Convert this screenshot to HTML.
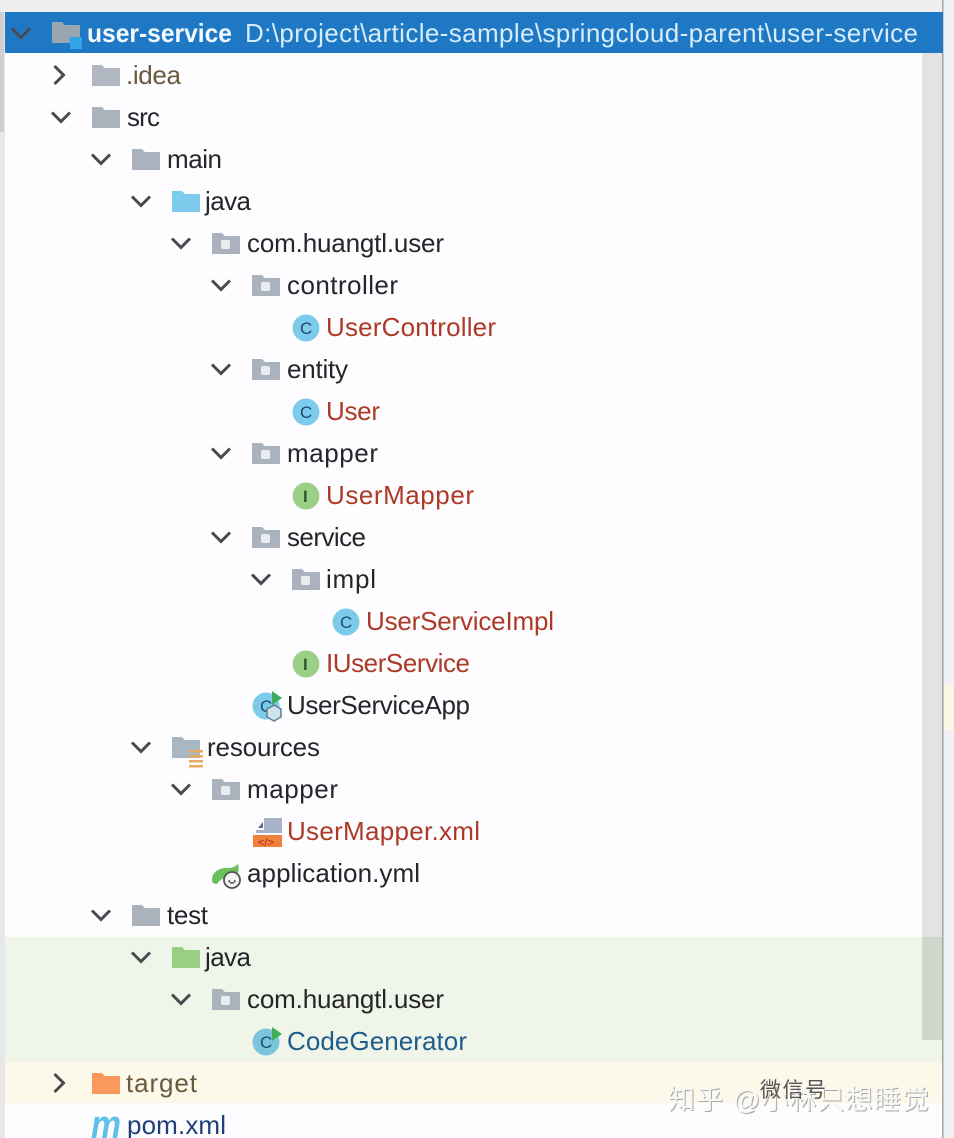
<!DOCTYPE html>
<html><head><meta charset="utf-8"><style>
html,body{margin:0;padding:0;background:#fff}
svg{display:block}
text{font-family:"Liberation Sans","Noto Sans CJK SC",sans-serif;font-size:26px}
.k{fill:#25252a}.r{fill:#ad3a26}.b{fill:#1f5c8c}.o{fill:#6a5a3c}
.c{fill:none;stroke:#4a4a4e;stroke-width:3}
</style></head><body>
<svg width="954" height="1138" viewBox="0 0 954 1138" xmlns="http://www.w3.org/2000/svg">
<defs>
<path id="f" d="M0 0h10l3 3h15v18H0z"/>
<g id="p"><use href="#f" fill="#a9b2bd"/><rect x="9" y="7" width="9" height="9" rx="2" fill="#e9ecf0"/></g>
<path id="d" class="c" d="M-9-4.500L0 4.500L9-4.500"/>
<path id="t" class="c" d="M-4.500-9L4.500 0L-4.500 9"/>
</defs>
<rect width="954" height="1138" fill="#fdfdff"/>
<rect width="954" height="12" fill="#eeeeee"/>
<rect x="0" y="12" width="5" height="1126" fill="#e8e8e8"/>
<rect x="0" y="12" width="4" height="120" fill="#cfcfcf"/>
<rect x="943" y="0" width="11" height="1138" fill="#f1f1f3"/>
<rect x="944" y="685" width="10" height="45" fill="#fbf7e6"/>
<rect x="5" y="937" width="938" height="125" fill="#eff6e9"/>
<rect x="5" y="1062" width="938" height="41" fill="#fdf9ea"/>
<rect x="922" y="52" width="20" height="988" fill="#e3e3e5"/>
<rect x="922" y="937" width="20" height="103" fill="#d0d6ca"/>
<rect x="942" y="0" width="1.500" height="1138" fill="#a5a5a8"/>
<rect x="5" y="12" width="938" height="41" fill="#1f78c4"/>

<!-- chevrons -->
<use href="#d" x="21" y="33" style="stroke:#0b4a80"/>
<use href="#t" x="59" y="75"/>
<use href="#d" x="61" y="117"/>
<use href="#d" x="101" y="159"/>
<use href="#d" x="141" y="201"/>
<use href="#d" x="181" y="243"/>
<use href="#d" x="221" y="285"/>
<use href="#d" x="221" y="369"/>
<use href="#d" x="221" y="453"/>
<use href="#d" x="221" y="537"/>
<use href="#d" x="261" y="579"/>
<use href="#d" x="141" y="747"/>
<use href="#d" x="181" y="789"/>
<use href="#d" x="101" y="915"/>
<use href="#d" x="141" y="957"/>
<use href="#d" x="181" y="999"/>
<use href="#t" x="59" y="1083"/>

<!-- folders -->
<use href="#f" x="52" y="22" fill="#9ba6b3"/><rect x="70" y="37" width="12" height="12" fill="#2ea6e6"/>
<use href="#f" x="92" y="65" fill="#b0b7c0"/>
<use href="#f" x="92" y="107" fill="#aab2bb"/>
<use href="#f" x="132" y="149" fill="#aab2bf"/>
<use href="#f" x="172" y="191" fill="#7fcbee"/>
<use href="#p" x="212" y="233"/>
<use href="#p" x="252" y="275"/>
<use href="#p" x="252" y="359"/>
<use href="#p" x="252" y="443"/>
<use href="#p" x="252" y="527"/>
<use href="#p" x="292" y="569"/>
<use href="#f" x="172" y="737" fill="#a9b6c4"/>
<g fill="#e8a860"><rect x="189" y="750" width="14" height="2.500"/><rect x="189" y="755" width="14" height="2.500"/><rect x="189" y="760" width="14" height="2.500"/><rect x="189" y="765" width="14" height="2.500"/></g>
<use href="#p" x="212" y="779"/>
<use href="#f" x="132" y="905" fill="#aab2bb"/>
<use href="#f" x="172" y="947" fill="#98cf80"/>
<use href="#p" x="212" y="989"/>
<use href="#f" x="92" y="1073" fill="#f99a5c"/>

<!-- class icons -->
<circle cx="306" cy="328" r="13.500" fill="#7ccbea"/><text x="300" y="334" style="font-size:17px" fill="#1f4a70">C</text>
<circle cx="306" cy="412" r="13.500" fill="#7ccbea"/><text x="300" y="418" style="font-size:17px" fill="#1f4a70">C</text>
<circle cx="306" cy="496" r="13.500" fill="#9dd086"/><text x="303" y="502" style="font-size:17px;font-weight:bold" fill="#2f5a2f">I</text>
<circle cx="346" cy="622" r="13.500" fill="#7ccbea"/><text x="340" y="628" style="font-size:17px" fill="#1f4a70">C</text>
<circle cx="306" cy="664" r="13.500" fill="#9dd086"/><text x="303" y="670" style="font-size:17px;font-weight:bold" fill="#2f5a2f">I</text>
<circle cx="266" cy="706" r="13.500" fill="#7ccbea"/><text x="260" y="712" style="font-size:17px" fill="#1f4a70">C</text>
<path d="M272 691l10 7-10 7z" fill="#3fae5c"/>
<path d="M267 709l7-4 7 4v8l-7 4-7-4z" fill="#cfe3ef" stroke="#607d92" stroke-width="1.500"/>
<circle cx="266" cy="1042" r="13.500" fill="#7cc4dc"/><text x="260" y="1048" style="font-size:17px" fill="#1f4a70">C</text>
<path d="M272 1027l10 7-10 7z" fill="#3fae5c"/>

<!-- xml icon -->
<path d="M264 818h18v15h-26v-3h8z" fill="#a8b2c8"/><path d="M263 822l-5 6h5z" fill="#5a6a80"/>
<rect x="253" y="835" width="29" height="12" fill="#f0813a"/><text x="258" y="846" style="font-size:11px" fill="#b3201a">&lt;/&gt;</text>
<!-- yml icon -->
<path d="M212 880c0-9 9-13 17-12 4 0 7-2 9-4 2 7-1 13-5 15-6-3-12-1-16 5-3 0-5-1-5-4z" fill="#6cc05a"/>
<circle cx="232" cy="880" r="8" fill="#f4f4f4" stroke="#555" stroke-width="1.800"/><path d="M229 880a3 3 0 0 0 6 0" fill="none" stroke="#555" stroke-width="1.500"/>
<!-- maven -->
<text x="91" y="1138" style="font-size:40px;font-weight:bold;font-style:italic" fill="#5fc0ea" textLength="30" lengthAdjust="spacingAndGlyphs">m</text>

<!-- labels -->
<text x="87" y="42" fill="#f2f9ff" style="font-weight:bold" textLength="145" lengthAdjust="spacingAndGlyphs">user-service</text>
<text x="245" y="42" fill="#d5ecfa" textLength="673">D:\project\article-sample\springcloud-parent\user-service</text>
<text x="126" y="84" class="o" textLength="55">.idea</text>
<text x="127" y="126" class="k" textLength="33">src</text>
<text x="167" y="168" class="k" textLength="55">main</text>
<text x="205" y="210" class="k" textLength="46">java</text>
<text x="247" y="252" class="k" textLength="197">com.huangtl.user</text>
<text x="287" y="294" class="k" textLength="111">controller</text>
<text x="326" y="336" class="r" textLength="170">UserController</text>
<text x="287" y="378" class="k" textLength="61">entity</text>
<text x="326" y="420" class="r" textLength="54">User</text>
<text x="287" y="462" class="k" textLength="91">mapper</text>
<text x="326" y="504" class="r" textLength="148">UserMapper</text>
<text x="287" y="546" class="k" textLength="79">service</text>
<text x="326" y="588" class="k" textLength="50">impl</text>
<text x="366" y="630" class="r" textLength="188">UserServiceImpl</text>
<text x="326" y="672" class="r" textLength="144">IUserService</text>
<text x="287" y="714" class="k" textLength="183">UserServiceApp</text>
<text x="207" y="756" class="k" textLength="113">resources</text>
<text x="247" y="798" class="k" textLength="91">mapper</text>
<text x="287" y="840" class="r" textLength="193">UserMapper.xml</text>
<text x="247" y="882" class="k" textLength="173">application.yml</text>
<text x="167" y="924" class="k" textLength="41">test</text>
<text x="205" y="966" class="k" textLength="46">java</text>
<text x="247" y="1008" class="k" textLength="197">com.huangtl.user</text>
<text x="287" y="1050" class="b" textLength="180">CodeGenerator</text>
<text x="126" y="1092" class="o" textLength="71">target</text>
<text x="127" y="1134" style="fill:#1f3f78" textLength="99">pom.xml</text>

<!-- watermark -->
<text x="669" y="1110" style="font-size:27px" fill="#a8a8a8" textLength="261">知乎 @小林只想睡觉</text>
<text x="668" y="1109" style="font-size:27px" fill="#f8f8f8" textLength="261">知乎 @小林只想睡觉</text>
<text x="760" y="1097" style="font-size:21px" fill="#555" textLength="66">微信号</text>
</svg>
</body></html>
